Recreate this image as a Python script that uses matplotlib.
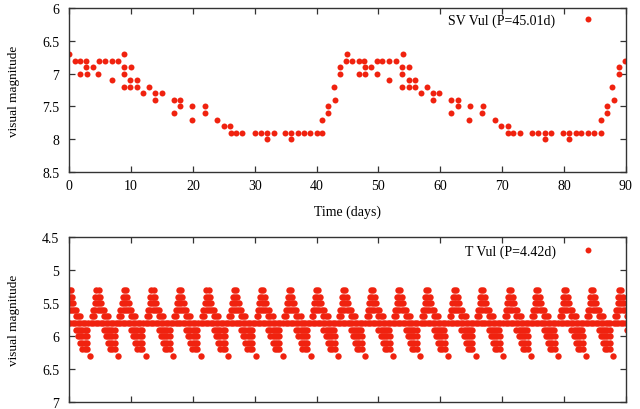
import matplotlib
matplotlib.use("Agg")
import matplotlib.pyplot as plt
from matplotlib.ticker import FormatStrFormatter, MultipleLocator

plt.rcParams['font.family'] = ['Liberation Serif', 'DejaVu Serif']

# SV Vul visual estimates (days, magnitude)
sv_days = [0.0, 0.9, 1.8, 2.7, 4.9, 5.8, 6.9, 7.9, 8.9,
           2.7, 3.9, 8.9, 10.0,
           1.7, 2.9, 4.7, 8.9,
           6.9, 9.9, 10.9,
           8.9, 9.9, 10.9, 12.9,
           11.9, 13.9, 15.0,
           13.9, 16.9, 17.9,
           17.9, 19.9, 21.9,
           16.9, 21.9,
           19.8, 23.9,
           25.0, 26.0,
           26.1, 26.9, 27.9, 30.1, 31.0, 32.0, 33.1, 34.9, 35.9, 37.0, 37.9, 39.0, 40.1, 40.8,
           32.0, 35.9,
           40.8, 41.8, 41.8, 42.8, 42.9, 43.8, 43.8, 44.7, 44.9,
           45.8, 46.8, 47.7, 46.8, 47.8, 47.8, 48.8,
           49.7, 50.6, 51.7, 52.8, 49.7, 51.7,
           53.9, 53.8, 53.8, 54.9, 53.8, 54.9, 55.9, 54.9, 55.9,
           56.8, 57.8, 58.8, 59.8, 58.8,
           61.7, 62.8, 61.7, 62.8, 64.8, 64.7, 66.9, 66.8, 68.8,
           69.8, 70.9, 71.0, 71.7, 72.8,
           74.8, 75.8, 76.9, 77.9, 76.9,
           79.8, 80.8, 81.9, 82.8, 83.8, 84.8, 85.9, 80.8,
           85.9, 87.0, 87.0, 88.1, 87.8, 88.9, 88.9, 89.8]
sv_mag = [6.7, 6.8, 6.8, 6.8, 6.8, 6.8, 6.8, 6.8, 6.7,
          6.9, 6.9, 6.9, 6.9,
          7.0, 7.0, 7.0, 7.0,
          7.1, 7.1, 7.1,
          7.2, 7.2, 7.2, 7.2,
          7.3, 7.3, 7.3,
          7.4, 7.4, 7.4,
          7.5, 7.5, 7.5,
          7.6, 7.6,
          7.7, 7.7,
          7.8, 7.8,
          7.9, 7.9, 7.9, 7.9, 7.9, 7.9, 7.9, 7.9, 7.9, 7.9, 7.9, 7.9, 7.9, 7.9,
          8.0, 8.0,
          7.7, 7.5, 7.6, 7.2, 7.4, 6.9, 7.0, 6.8, 6.7,
          6.8, 6.8, 6.8, 7.0, 6.9, 7.0, 6.9,
          6.8, 6.8, 6.8, 6.8, 7.0, 7.1,
          6.7, 6.9, 7.0, 6.9, 7.2, 7.2, 7.2, 7.1, 7.1,
          7.3, 7.2, 7.3, 7.3, 7.4,
          7.4, 7.4, 7.6, 7.5, 7.5, 7.7, 7.5, 7.6, 7.7,
          7.8, 7.8, 7.9, 7.9, 7.9,
          7.9, 7.9, 7.9, 7.9, 8.0,
          7.9, 7.9, 7.9, 7.9, 7.9, 7.9, 7.9, 8.0,
          7.7, 7.6, 7.5, 7.4, 7.2, 7.0, 6.9, 6.8]

# T Vul: times of maximum read off the chart, and the estimates of one cycle
# (days after maximum, magnitude) which repeat in every cycle
tv_max_days = [0.1, 4.6, 9.0, 13.5, 17.9, 22.4, 26.8, 31.2, 35.7, 40.1, 44.5,
               49.0, 53.4, 57.9, 62.4, 66.8, 71.3, 75.7, 80.2, 84.6, 89.1]
cycle_offsets = [-0.2, 0.15,
                 -0.35, 0.0, 0.4,
                 -0.45, -0.1, 0.25, 0.6,
                 -0.7, -0.35, 0.0, 0.35, 0.7, 1.05,
                 -0.9, -0.6, 1.0, 1.35, 1.7,
                 -1.1, -0.7, -0.3, 0.1, 0.5, 0.9, 1.3, 1.7, 2.1, 2.5, 2.9,
                 1.0, 1.35, 1.7, 2.05, 2.4, 2.75,
                 1.35, 1.7, 2.05, 2.4, 2.8,
                 1.7, 2.05, 2.4, 2.8,
                 2.0, 2.4, 2.8,
                 3.35]
cycle_mags = [5.3, 5.3,
              5.4, 5.4, 5.4,
              5.5, 5.5, 5.5, 5.5,
              5.6, 5.6, 5.6, 5.6, 5.6, 5.6,
              5.7, 5.7, 5.7, 5.7, 5.7,
              5.8, 5.8, 5.8, 5.8, 5.8, 5.8, 5.8, 5.8, 5.8, 5.8, 5.8,
              5.9, 5.9, 5.9, 5.9, 5.9, 5.9,
              6.0, 6.0, 6.0, 6.0, 6.0,
              6.1, 6.1, 6.1, 6.1,
              6.2, 6.2, 6.2,
              6.3]

tv_days = []
tv_mag = []
for t0 in tv_max_days:
    for off, m in zip(cycle_offsets, cycle_mags):
        tv_days.append(t0 + off)
        tv_mag.append(m)

red = '#f0220f'
axis_col = '#333333'

fig = plt.figure(figsize=(6.4, 4.1), dpi=100)
ax1 = fig.add_axes([0.108, 0.578, 0.870, 0.400])
ax2 = fig.add_axes([0.108, 0.017, 0.870, 0.402])


def style(ax, ylo, yhi):
    ax.set_xlim(0, 90)
    ax.set_ylim(yhi, ylo)
    ax.xaxis.set_major_locator(MultipleLocator(10))
    ax.yaxis.set_major_locator(MultipleLocator(0.5))
    ax.yaxis.set_major_formatter(FormatStrFormatter('%g'))
    ax.tick_params(direction='in', length=4, width=0.9, top=True, right=True,
                   labelsize=10, color=axis_col)
    ax.tick_params(axis='y', pad=7)
    ax.tick_params(axis='x', pad=5)
    for s in ax.spines.values():
        s.set_color(axis_col)
        s.set_linewidth(1.0)
    ax.set_ylabel('visual magnitude', fontsize=9.5)
    ax.yaxis.set_label_coords(-0.088, 0.5)


ax1.plot(sv_days, sv_mag, 'o', color=red, ms=4.3, mec='none',
         label='SV Vul (P=45.01d)')
style(ax1, 6, 8.5)
ax1.set_xlabel('Time (days)', fontsize=10)
ax1.xaxis.set_label_coords(0.5, -0.2)
ax1.legend(loc='upper right', bbox_to_anchor=(0.956, 0.965), frameon=False,
           markerfirst=False, fontsize=10, borderaxespad=0, borderpad=0,
           handlelength=2.0, handletextpad=1.3)

ax2.plot(tv_days, tv_mag, 'o', color=red, ms=4.6, mec='none',
         label='T Vul (P=4.42d)')
style(ax2, 4.5, 7)
ax2.tick_params(axis='x', labelbottom=False)
ax2.legend(loc='upper right', bbox_to_anchor=(0.956, 0.958), frameon=False,
           markerfirst=False, fontsize=10, borderaxespad=0, borderpad=0,
           handlelength=2.0, handletextpad=1.3, markerscale=0.93)

fig.savefig('out.png', dpi=100, facecolor='white')
